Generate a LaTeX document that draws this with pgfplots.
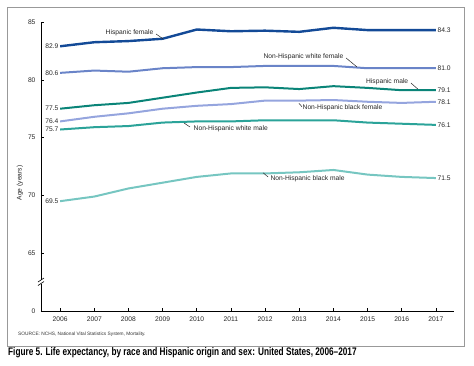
\documentclass[border=0pt]{standalone}
\usepackage{fontspec}
\setmainfont{Liberation Sans}
\usepackage{pgfplots}
\pgfplotsset{compat=1.18}
\usepackage{graphicx}
\definecolor{hf}{HTML}{134A97}
\definecolor{nwf}{HTML}{6A84C8}
\definecolor{hm}{HTML}{0A8478}
\definecolor{nbf}{HTML}{95A5DE}
\definecolor{nwm}{HTML}{2BA399}
\definecolor{nbm}{HTML}{76C6C1}
\begin{document}
\begin{tikzpicture}[x=1pt,y=1pt]
\useasboundingbox (-41,-54) rectangle (433,311);
\begin{axis}[
  scale only axis, width=413pt, height=289pt,
  at={(0,0)}, anchor=south west,
  xmin=2005.44, xmax=2017.53, ymin=60, ymax=85,
  axis x line=bottom, axis y line=left,
  axis line style={-, black, line width=0.6pt},
  xtick={2006,...,2017},
  ytick={60,65,70,75,80,85},
  yticklabels={0,65,70,75,80,85},
  tick align=inside, major tick length=3pt,
  tick style={black, line width=0.6pt},
  /pgf/number format/assume math mode=true,
  /pgf/number format/1000 sep={},
  tick label style={font=\fontsize{6.7}{8}\selectfont, text=black!85},
  xticklabel style={yshift=-2.5pt},
  yticklabel style={xshift=-2pt},
  clip=false,
  every axis plot/.append style={line width=2pt, line join=round},
]
\addplot[hf, line width=2.4pt, no marks] coordinates {(2006,82.9)(2007,83.25)(2008,83.35)(2009,83.55)(2010,84.35)(2011,84.2)(2012,84.25)(2013,84.15)(2014,84.5)(2015,84.3)(2016,84.3)(2017,84.3)};
\addplot[nwf, no marks] coordinates {(2006,80.6)(2007,80.8)(2008,80.7)(2009,81.0)(2010,81.1)(2011,81.1)(2012,81.2)(2013,81.2)(2014,81.2)(2015,81.0)(2016,81.0)(2017,81.0)};
\addplot[hm, no marks] coordinates {(2006,77.5)(2007,77.8)(2008,78.0)(2009,78.45)(2010,78.9)(2011,79.3)(2012,79.35)(2013,79.2)(2014,79.45)(2015,79.3)(2016,79.1)(2017,79.1)};
\addplot[nbf, no marks] coordinates {(2006,76.4)(2007,76.8)(2008,77.1)(2009,77.5)(2010,77.75)(2011,77.9)(2012,78.2)(2013,78.2)(2014,78.25)(2015,78.1)(2016,78.0)(2017,78.1)};
\addplot[nwm, no marks] coordinates {(2006,75.7)(2007,75.9)(2008,76.0)(2009,76.3)(2010,76.4)(2011,76.4)(2012,76.5)(2013,76.5)(2014,76.5)(2015,76.3)(2016,76.2)(2017,76.1)};
\addplot[nbm, no marks] coordinates {(2006,69.5)(2007,69.9)(2008,70.6)(2009,71.1)(2010,71.6)(2011,71.9)(2012,71.9)(2013,72.0)(2014,72.2)(2015,71.8)(2016,71.6)(2017,71.5)};
% value labels
\begin{scope}[every node/.style={font=\fontsize{6.7}{8}\selectfont, text=black!85, inner sep=1.5pt}]
\node[anchor=east] at (axis cs:2006,82.9) {82.9};
\node[anchor=east] at (axis cs:2006,80.6) {80.6};
\node[anchor=east] at (axis cs:2006,77.5) {77.5};
\node[anchor=east] at (axis cs:2006,76.4) {76.4};
\node[anchor=east] at (axis cs:2006,75.7) {75.7};
\node[anchor=east] at (axis cs:2006,69.5) {69.5};
\node[anchor=west] at (axis cs:2017,84.3) {84.3};
\node[anchor=west] at (axis cs:2017,81.0) {81.0};
\node[anchor=west] at (axis cs:2017,79.1) {79.1};
\node[anchor=west] at (axis cs:2017,78.1) {78.1};
\node[anchor=west] at (axis cs:2017,76.1) {76.1};
\node[anchor=west] at (axis cs:2017,71.5) {71.5};
% series labels
\node[anchor=east] at (axis cs:2008.78,84.05) {Hispanic female};
\node[anchor=east] at (axis cs:2014.34,81.97) {Non-Hispanic white female};
\node[anchor=east] at (axis cs:2016.24,79.81) {Hispanic male};
\node[anchor=west] at (axis cs:2013.05,77.6) {Non-Hispanic black female};
\node[anchor=west] at (axis cs:2009.86,75.8) {Non-Hispanic white male};
\node[anchor=west] at (axis cs:2012.11,71.42) {Non-Hispanic black male};
\end{scope}
\begin{scope}[black!85, line width=0.5pt]
\draw (axis cs:2008.81,83.96) -- (axis cs:2009.01,83.55);
\draw (axis cs:2014.37,81.89) -- (axis cs:2014.69,81.11);
\draw (axis cs:2016.27,79.72) -- (axis cs:2016.47,79.2);
\draw (axis cs:2012.99,77.97) -- (axis cs:2013.08,77.67);
\draw (axis cs:2009.63,76.26) -- (axis cs:2009.8,75.92);
\draw (axis cs:2011.94,71.96) -- (axis cs:2012.09,71.59);
\end{scope}
\end{axis}
% axis break
\fill[white] (-2,27.3) rectangle (2,31.2);
\draw[black, line width=0.6pt] (-3,25.5) -- (3,29.5);
\draw[black, line width=0.6pt] (-3,29) -- (3,33);
% y label
\node[rotate=90, font=\fontsize{6.7}{8}\selectfont, text=black!85] at (-21,128) {Age (years)};
% source
\node[anchor=west, inner sep=0pt, font=\fontsize{4.8}{6}\selectfont, text=black!80] at (-23,-23) {SOURCE: NCHS, National Vital Statistics System, Mortality.};
% frame
\draw[black!40, line width=0.8pt] (-34,-35) rectangle (423,304);
% caption
\node[anchor=west, inner sep=0pt] at (-33,-42) {\scalebox{0.75}[1]{\fontsize{11}{13}\selectfont\bfseries Figure 5. Life expectancy, by race and Hispanic origin and sex: United States, 2006--2017}};
\end{tikzpicture}
\end{document}
